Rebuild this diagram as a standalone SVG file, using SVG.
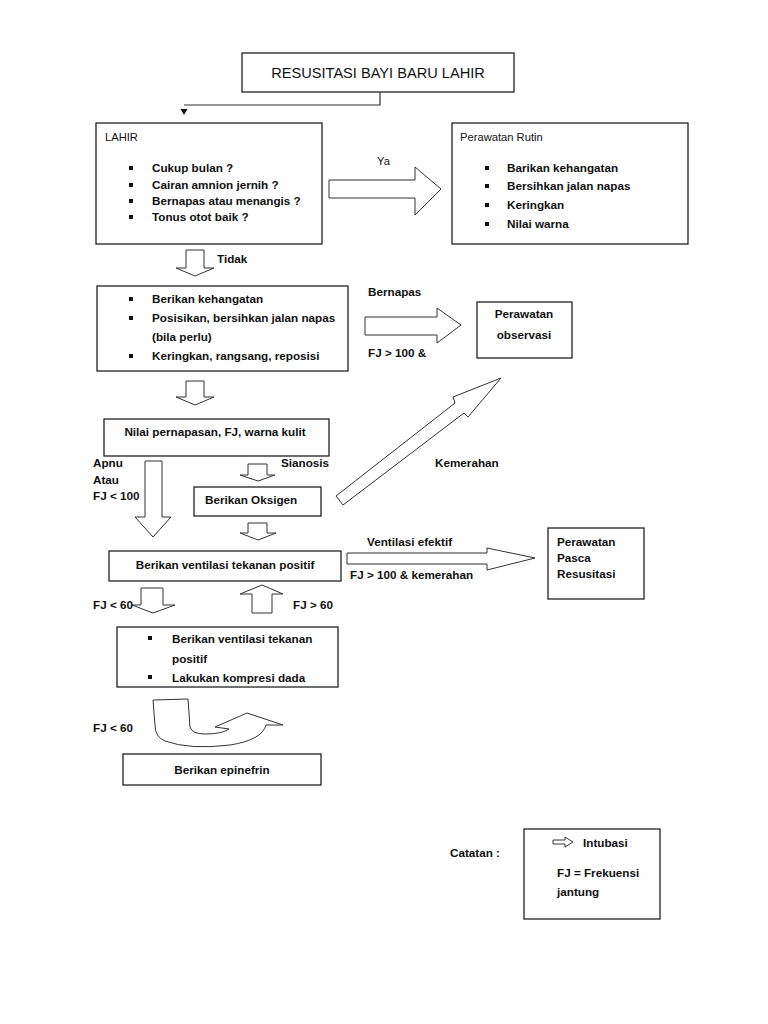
<svg xmlns="http://www.w3.org/2000/svg" width="768" height="1024" viewBox="0 0 768 1024">
<style>
.box{fill:#fff;stroke:#222;stroke-width:1.3}
.arr{fill:#fff;stroke:#333;stroke-width:1}
.t{font-family:"Liberation Sans",Arial,sans-serif;font-size:11.2px;fill:#111}
.b{font-weight:bold;font-size:11.7px}
.bul{fill:#111}
.ln{fill:none;stroke:#333;stroke-width:1.2}
</style>
<defs>
<rect id="sq" width="4" height="4" class="bul"/>
</defs>
<rect width="768" height="1024" fill="#fff"/>

<g id="title">
<rect class="box" x="242" y="53" width="272" height="39"/>
<text class="t" x="378" y="78" text-anchor="middle" style="font-size:14.6px">RESUSITASI BAYI BARU LAHIR</text>
</g>

<g id="connectors">
<polyline class="ln" points="380,92 380,105 184,105"/>
<polygon points="180.5,109 187.5,109 184,115" fill="#111"/>
<!-- Ya -->
<polygon class="arr" points="329,180 415,180 415,167 441,189 415,215 415,198 329,198"/>
<!-- Tidak -->
<polygon class="arr" points="186,250 204,250 204,268 214,268 195,276 176,268 186,268"/>
<!-- Bernapas -->
<polygon class="arr" points="365,317 437,317 437,308 461,325 437,343 437,335 365,335"/>
<!-- down to nilai -->
<polygon class="arr" points="186,381 204,381 204,397 214,397 195,405 176,397 186,397"/>
<!-- diagonal -->
<polygon class="arr" points="336,496 455,403 453,397 501,378 468,417 464,413 343,505"/>
<!-- Apnu -->
<polygon class="arr" points="145,461 162,461 162,517 171,517 153,537 135,517 145,517"/>
<!-- Sianosis -->
<polygon class="arr" points="248,464 267,464 267,475 275,475 258,481 240,475 248,475"/>
<!-- below oksigen -->
<polygon class="arr" points="248,523 267,523 267,533 276,533 258,540 240,533 248,533"/>
<!-- ventilasi efektif -->
<polygon class="arr" points="347,553 487,553 487,548 535,558 487,570 487,564 347,564"/>
<!-- FJ<60 down -->
<polygon class="arr" points="141,588 163,588 163,605 175,605 153,613 132,605 141,605"/>
<!-- FJ>60 up -->
<polygon class="arr" points="252,613 272,613 272,594 283,594 262,585 240,594 252,594"/>
<!-- curved -->
<path class="arr" d="M153,700 L188,699 L190,727 Q192,734 205,734 Q222,734 229,729 L215,727 L247,713 L283,725 L266,725 Q262,740 230,745 Q190,750 165,741 Q155,737 155,725 Z"/>
</g>

<g id="lahir">
<rect class="box" x="96" y="123" width="226" height="121"/>
<text class="t" x="105" y="141">LAHIR</text>
<use href="#sq" x="129" y="166"/><use href="#sq" x="129" y="183"/><use href="#sq" x="129" y="199"/><use href="#sq" x="129" y="215"/>
<text class="t b" x="152" y="172">Cukup bulan ?</text>
<text class="t b" x="152" y="189">Cairan amnion jernih ?</text>
<text class="t b" x="152" y="205">Bernapas atau menangis ?</text>
<text class="t b" x="152" y="221">Tonus otot baik ?</text>
</g>
<text class="t" x="377" y="165">Ya</text>

<g id="rutin">
<rect class="box" x="452" y="123" width="236" height="121"/>
<text class="t" x="460" y="141">Perawatan Rutin</text>
<use href="#sq" x="485" y="166"/><use href="#sq" x="485" y="184"/><use href="#sq" x="485" y="203"/><use href="#sq" x="485" y="222"/>
<text class="t b" x="507" y="172">Barikan kehangatan</text>
<text class="t b" x="507" y="190">Bersihkan jalan napas</text>
<text class="t b" x="507" y="209">Keringkan</text>
<text class="t b" x="507" y="228">Nilai warna</text>
</g>
<text class="t b" x="217" y="263">Tidak</text>

<g id="langkah-awal">
<rect class="box" x="97" y="286" width="251" height="85"/>
<use href="#sq" x="129" y="297"/><use href="#sq" x="129" y="316"/><use href="#sq" x="129" y="354"/>
<text class="t b" x="152" y="303">Berikan kehangatan</text>
<text class="t b" x="152" y="322">Posisikan, bersihkan jalan napas</text>
<text class="t b" x="152" y="341">(bila perlu)</text>
<text class="t b" x="152" y="360">Keringkan, rangsang, reposisi</text>
</g>
<text class="t b" x="368" y="296">Bernapas</text>
<text class="t b" x="368" y="357">FJ &gt; 100 &amp;</text>

<g id="observasi">
<rect class="box" x="477" y="302" width="95" height="56"/>
<text class="t b" x="524" y="318" text-anchor="middle">Perawatan</text>
<text class="t b" x="524" y="339" text-anchor="middle">observasi</text>
</g>
<text class="t b" x="435" y="467">Kemerahan</text>

<g id="nilai">
<rect class="box" x="104" y="419" width="225" height="37"/>
<text class="t b" x="215" y="436" text-anchor="middle">Nilai pernapasan, FJ, warna kulit</text>
</g>
<text class="t b" x="93" y="467">Apnu</text>
<text class="t b" x="93" y="484">Atau</text>
<text class="t b" x="93" y="500">FJ &lt; 100</text>
<text class="t b" x="281" y="467">Sianosis</text>

<g id="oksigen">
<rect class="box" x="194" y="487" width="127" height="29"/>
<text class="t b" x="205" y="504">Berikan Oksigen</text>
</g>

<g id="vtp">
<rect class="box" x="109" y="551" width="232" height="30"/>
<text class="t b" x="225" y="569" text-anchor="middle">Berikan ventilasi tekanan positif</text>
</g>
<text class="t b" x="367" y="546">Ventilasi efektif</text>
<text class="t b" x="350" y="579">FJ &gt; 100 &amp; kemerahan</text>

<g id="pasca">
<rect class="box" x="548" y="528" width="96" height="71"/>
<text class="t b" x="557" y="546">Perawatan</text>
<text class="t b" x="557" y="562">Pasca</text>
<text class="t b" x="557" y="578">Resusitasi</text>
</g>
<text class="t b" x="93" y="609">FJ &lt; 60</text>
<text class="t b" x="293" y="609">FJ &gt; 60</text>

<g id="kompresi">
<rect class="box" x="117" y="627" width="221" height="60"/>
<use href="#sq" x="148" y="636"/><use href="#sq" x="148" y="675"/>
<text class="t b" x="172" y="643">Berikan ventilasi tekanan</text>
<text class="t b" x="172" y="663">positif</text>
<text class="t b" x="172" y="682">Lakukan kompresi dada</text>
</g>
<text class="t b" x="93" y="732">FJ &lt; 60</text>

<g id="epinefrin">
<rect class="box" x="123" y="754" width="198" height="31"/>
<text class="t b" x="222" y="774" text-anchor="middle">Berikan epinefrin</text>
</g>

<text class="t b" x="450" y="857">Catatan :</text>
<g id="catatan">
<rect class="box" x="524" y="829" width="136" height="90"/>
<polygon class="arr" points="553,840 565,840 565,837 573,842 565,847 565,844 553,844"/>
<text class="t b" x="583" y="847">Intubasi</text>
<text class="t b" x="557" y="877">FJ = Frekuensi</text>
<text class="t b" x="557" y="896">jantung</text>
</g>
</svg>
